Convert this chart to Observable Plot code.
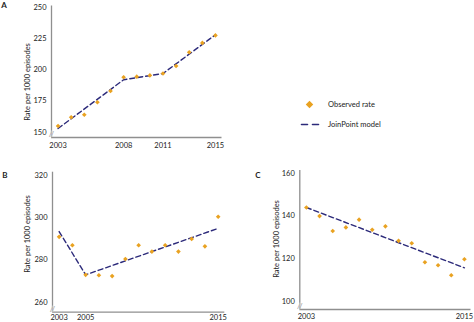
<!DOCTYPE html>
<html>
<head>
<meta charset="utf-8">
<script src="https://cdn.jsdelivr.net/npm/d3@7"></script>
<script src="https://cdn.jsdelivr.net/npm/@observablehq/plot@0.6"></script>
<style>
  body { margin: 0; background: #fff; }
  #wrap { position: relative; width: 474px; height: 322px; overflow: hidden; font-family: Lato, "Open Sans", sans-serif; color: #222; }
  .panel { position: absolute; }
  .letter { position: absolute; font-weight: bold; font-size: 8px; color: #222; transform: translate(-50%, -50%); }
  .ytitle { position: absolute; font-size: 7.5px; color: #222; white-space: nowrap; transform: translate(-50%, -50%) rotate(-90deg); }
  .legtext { position: absolute; font-size: 7.5px; color: #222; white-space: nowrap; transform: translateY(-50%); }
</style>
</head>
<body>
<div id="wrap"></div>
<script>
// ---- data ----
const years = [2003, 2004, 2005, 2006, 2007, 2008, 2009, 2010, 2011, 2012, 2013, 2014, 2015];
const observedA = [155, 162, 164, 174, 183, 194, 194.5, 195.5, 197, 203, 214, 221.5, 227.5];
const observedB = [291, 287, 273, 272.8, 272.4, 280.5, 287, 284, 287, 284, 290, 286.5, 300.5];
const observedC = [144, 140, 133, 134.7, 138.3, 133.6, 135.2, 128.4, 127.3, 118.4, 117, 112.3, 119.8];
const joinYearsA = [2003, 2008, 2011, 2015];
const joinA = [153, 192, 197, 228];
const joinYearsB = [2003, 2005, 2015];
const joinB = [293.5, 273, 295];
const joinYearsC = [2003, 2015];
const joinC = [144, 115.8];
const yTicksA = [150, 175, 200, 225, 250];
const yTicksB = [260, 280, 300, 320];
const yTicksC = [100, 120, 140, 160];
const xTicksA = [2003, 2008, 2011, 2015];
const xTicksB = [2003, 2005, 2015];
const xTicksC = [2003, 2015];
const yTitle = "Rate per 1000 episodes";
const legendLabels = ["Observed rate", "JoinPoint model"];

const ORANGE = "#E9A221";
const NAVY = "#2C2A7A";
const AXIS = "#8f8f8f";
const wrap = document.getElementById("wrap");

function panel(o) {
  const obs = years.map((yr, i) => ({year: yr, rate: o.observed[i]}));
  const jp = o.joinYears.map((yr, i) => ({year: yr, rate: o.join[i]}));
  const xDomain = [2002.5, 2015.5];
  const chart = Plot.plot({
    width: o.width, height: o.height,
    marginLeft: o.mL, marginRight: o.mR, marginTop: o.mT, marginBottom: o.mB,
    style: {fontFamily: "Lato, 'Open Sans', sans-serif", fontSize: "7.5px", color: "#222", background: "transparent", overflow: "visible"},
    x: {domain: xDomain},
    y: {domain: o.yDomain},
    marks: [
      Plot.axisY({ticks: o.yTicks, tickSize: 0, tickPadding: 5, label: null}),
      Plot.axisX({ticks: o.xTicks, tickSize: 0, tickPadding: o.xPad, tickFormat: d => String(d), label: null}),
      Plot.ruleX([xDomain[0]], {stroke: AXIS, strokeWidth: 1.3}),
      Plot.ruleY([o.yDomain[0]], {stroke: AXIS, strokeWidth: 1.3}),
      Plot.text([{x: xDomain[0], y: o.yDomain[0]}], {x: "x", y: "y", text: () => "//", dy: -3, fontSize: 8, fill: AXIS, stroke: "white", strokeWidth: 0.5}),
      Plot.line(jp, {x: "year", y: "rate", stroke: NAVY, strokeWidth: 1.4, strokeDasharray: "5,3"}),
      Plot.dot(obs, {x: "year", y: "rate", symbol: "diamond2", r: 2.1, fill: ORANGE, stroke: null})
    ]
  });
  const div = document.createElement("div");
  div.className = "panel";
  div.style.left = o.left + "px";
  div.style.top = o.top + "px";
  div.appendChild(chart);
  wrap.appendChild(div);

  const t = document.createElement("div");
  t.className = "ytitle";
  t.textContent = yTitle;
  t.style.left = o.titleX + "px";
  t.style.top = o.titleY + "px";
  wrap.appendChild(t);

  const l = document.createElement("div");
  l.className = "letter";
  l.textContent = o.letter;
  l.style.left = o.letterX + "px";
  l.style.top = o.letterY + "px";
  wrap.appendChild(l);
}

panel({letter: "A", letterX: 4, letterY: 5, left: 0, top: 0, width: 240, height: 150,
  mL: 51, mR: 18.5, mT: 5.5, mB: 13, yDomain: [145.8, 251], yTicks: yTicksA, xTicks: xTicksA, xPad: 5,
  observed: observedA, joinYears: joinYearsA, join: joinA, titleX: 27, titleY: 82});
panel({letter: "B", letterX: 5, letterY: 175, left: 0, top: 160, width: 240, height: 162,
  mL: 52, mR: 15.7, mT: 11.7, mB: 10.3, yDomain: [255.3, 321.6], yTicks: yTicksB, xTicks: xTicksB, xPad: 2.5,
  observed: observedB, joinYears: joinYearsB, join: joinB, titleX: 27, titleY: 234});
panel({letter: "C", letterX: 258, letterY: 175, left: 240, top: 160, width: 234, height: 162,
  mL: 59.3, mR: 3.5, mT: 10, mB: 13, yDomain: [96.3, 161.3], yTicks: yTicksC, xTicks: xTicksC, xPad: 4,
  observed: observedC, joinYears: joinYearsC, join: joinC, titleX: 276, titleY: 239});

// legend
const leg = Plot.plot({
  width: 40, height: 40, margin: 0,
  x: {domain: [0, 1], range: [0, 40]},
  y: {domain: [0, 1], range: [0, 40]},
  axis: null,
  style: {background: "transparent", overflow: "visible"},
  marks: [
    Plot.dot([{x: 0.225, y: 0.1}], {x: "x", y: "y", symbol: "diamond2", r: 3.4, fill: ORANGE}),
    Plot.line([{x: 0.025, y: 0.6}, {x: 0.45, y: 0.6}], {x: "x", y: "y", stroke: NAVY, strokeWidth: 1.6, strokeDasharray: "6,5"})
  ]
});
const ld = document.createElement("div");
ld.className = "panel";
ld.style.left = "300px";
ld.style.top = "100px";
ld.appendChild(leg);
wrap.appendChild(ld);
legendLabels.forEach((txt, i) => {
  const s = document.createElement("div");
  s.className = "legtext";
  s.textContent = txt;
  s.style.left = "328px";
  s.style.top = (104 + i * 20) + "px";
  wrap.appendChild(s);
});
</script>
</body>
</html>
